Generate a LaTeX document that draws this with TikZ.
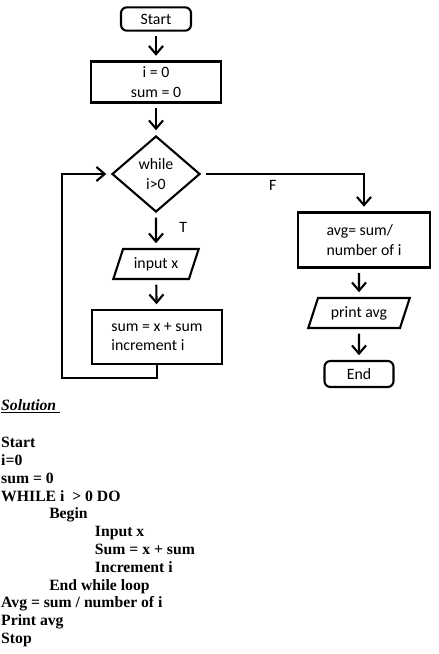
\documentclass[tikz,border=0pt]{standalone}
\usepackage{fontspec}
\setmainfont{Carlito}
\newfontfamily\solfont{Liberation Serif}
\usetikzlibrary{shapes.geometric, arrows.meta}
\tikzstyle{arrow} = [line width=1.8pt,->,>={Straight Barb[length=7pt,width=12pt]}]
\tikzstyle{term} = [rectangle, rounded corners=5pt,
minimum width=2.1cm,
minimum height=0.7cm,
text centered,
draw=black, line width=1.8pt]
\tikzstyle{proc} = [rectangle,
minimum width=3.9cm,
minimum height=1.23cm,
align=center,
draw=black, line width=1.8pt]
\tikzstyle{decision} = [diamond,
minimum width=2.64cm,
minimum height=2.28cm,
inner sep=0pt,
align=center,
draw=black, line width=1.8pt]
\tikzstyle{io} = [trapezium, trapezium left angle=72, trapezium right angle=108,
minimum width=1cm,
minimum height=0.9cm,
inner xsep=1pt,
text centered,
draw=black, line width=1.8pt]

\begin{document}
\begin{tikzpicture}[x=0.03cm, y=-0.03cm, font=\fontsize{13.5}{16.5}\selectfont]
            \useasboundingbox (0,0) rectangle (438,654);

            \node (start) [term] at (156,19) {Start};
            \node (init)  [proc] at (156,82) {i = 0\\sum = 0};
            \node (cond)  [decision] at (156,174) {while\\i>0};
            \node (inp)   [io] at (156,264) {input x};
            \node (upd)   [proc, minimum height=1.62cm, align=left] at (157,337) {sum = x + sum\\increment i};
            \node (avg)   [proc, minimum width=3.96cm, minimum height=1.65cm, align=left] at (364,240) {avg= sum/\\number of i};
            \node (out)   [io] at (359,313) {print avg};
            \node (stop)  [term, minimum width=2.07cm, minimum height=0.78cm] at (359,374) {End};
            \coordinate (back) at (62,378);

            \draw [arrow, shorten <=4pt, shorten >=4pt] (start) -- (init);
            \draw [arrow, shorten <=4pt, shorten >=4pt] (init) -- (cond);
            \draw [arrow, shorten <=4pt, shorten >=4pt] (cond) -- node[anchor=west, xshift=0.55cm, yshift=0.1cm]{T} (inp);
            \draw [arrow, shorten <=4pt, shorten >=4pt] (inp) -- (upd);
            \draw [arrow, shorten <=4pt, shorten >=4pt] (cond.east) -| node[pos=0.22, anchor=north, yshift=-0.05cm]{F} (avg.north);
            \draw [arrow, shorten <=4pt, shorten >=4pt] (avg.south -| out) -- (out);
            \draw [arrow, shorten <=4pt, shorten >=4pt] (out) -- (stop);
            \draw [arrow, shorten >=4pt] (upd.south) |- (back) |- (cond.west);

            \node (sol) [anchor=base west, inner sep=0pt, font=\solfont\fontsize{13.4}{15.2}\selectfont] at (1,410)
                {\underline{\textbf{\textit{Solution}}\ }};
            \node (code) [anchor=north west, inner sep=0pt, align=left, font=\solfont\bfseries\fontsize{13.4}{15.2}\selectfont] at (1,437)
                {Start\\
                 i=0\\
                 sum = 0\\
                 WHILE i \ > 0 DO\\
                 \hspace*{41pt}Begin\\
                 \hspace*{80pt}Input x\\
                 \hspace*{80pt}Sum = x + sum\\
                 \hspace*{80pt}Increment i\\
                 \hspace*{41pt}End while loop\\
                 Avg = sum / number of i\\
                 Print avg\\
                 Stop};
\end{tikzpicture}
\end{document}
